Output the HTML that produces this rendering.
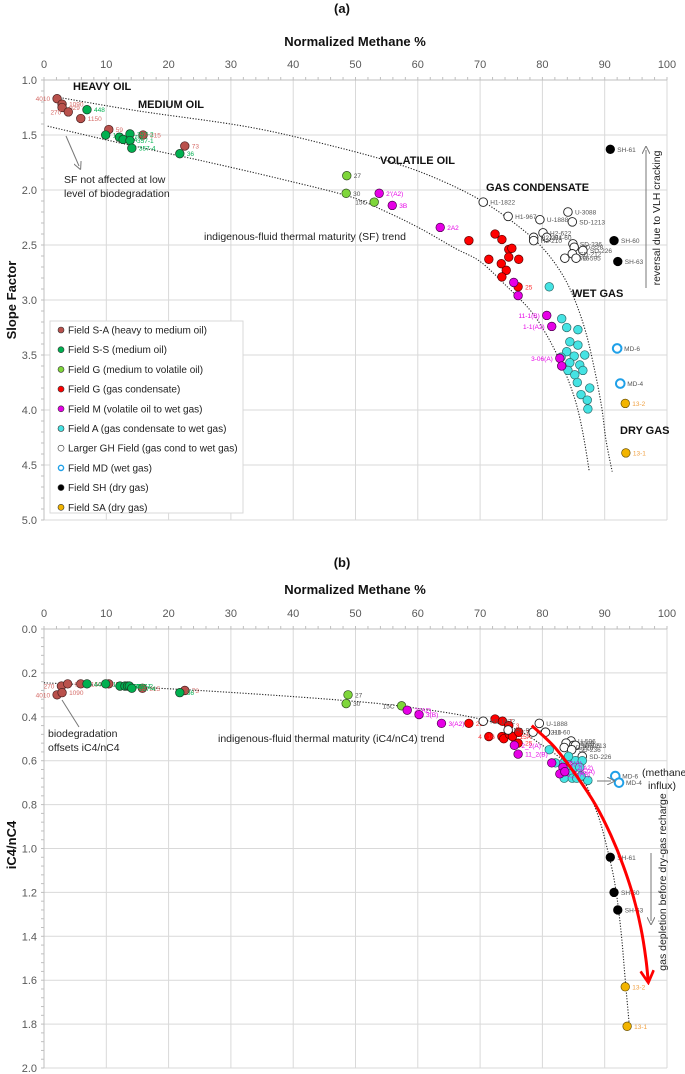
<!DOCTYPE html>
<html><head><meta charset="utf-8">
<style>
html,body{margin:0;padding:0;background:#fff;}
svg{display:block;font-family:"Liberation Sans",Arial,sans-serif;}
.tick{font-size:11px;fill:#595959;}
.ttl{font-size:13px;font-weight:bold;fill:#111;}
.zone{font-size:11px;font-weight:bold;fill:#111;}
.note{font-size:10.5px;fill:#222;}
.lg{font-size:10px;fill:#222;}
.pl{font-size:6.5px;}
</style></head>
<body>
<svg id="chart" width="685" height="1074" viewBox="0 0 685 1074" xmlns="http://www.w3.org/2000/svg">
<defs>
<marker id="ah" markerWidth="8" markerHeight="8" refX="4" refY="4" orient="auto"><path d="M0,0 L8,4 L0,8" fill="none" stroke="#777" stroke-width="1"/></marker>
<marker id="ahr" markerWidth="5" markerHeight="5" refX="4.2" refY="2.5" orient="auto" markerUnits="strokeWidth"><path d="M0.3,0.3 L4.3,2.5 L0.3,4.7" fill="none" stroke="#f00" stroke-width="0.9" stroke-linejoin="miter"/></marker>
</defs>
<text x="342" y="13" text-anchor="middle" class="ttl">(a)</text>
<text x="355" y="46" text-anchor="middle" class="ttl">Normalized Methane %</text>
<text x="342" y="567" text-anchor="middle" class="ttl">(b)</text>
<text x="355" y="594" text-anchor="middle" class="ttl">Normalized Methane %</text>
<text transform="translate(16,300) rotate(-90)" text-anchor="middle" class="ttl">Slope Factor</text>
<text transform="translate(16,845) rotate(-90)" text-anchor="middle" class="ttl">iC4/nC4</text>
<g id="gA"></g>
<g id="gB"></g>

<text x="73" y="90" class="zone">HEAVY OIL</text>
<text x="138" y="108" class="zone">MEDIUM OIL</text>
<text x="380" y="164" class="zone">VOLATILE OIL</text>
<text x="486" y="191" class="zone">GAS CONDENSATE</text>
<text x="572" y="297" class="zone">WET GAS</text>
<text x="620" y="434" class="zone">DRY GAS</text>
<text x="64" y="183" class="note">SF not affected at low</text>
<text x="64" y="197" class="note">level of biodegradation</text>
<line x1="66" y1="136" x2="79" y2="166" stroke="#777" stroke-width="1" marker-end="url(#ah)"/>
<text x="204" y="240" class="note">indigenous-fluid thermal maturity (SF) trend</text>
<line x1="646" y1="288" x2="646" y2="150" stroke="#777" stroke-width="1" marker-end="url(#ah)"/>
<text transform="translate(660,218) rotate(-90)" text-anchor="middle" class="note">reversal due to VLH cracking</text>

<g>
<rect x="50" y="321" width="193" height="192" fill="#fff" stroke="#d9d9d9"/>
<g id="legendItems"></g>
</g>

<text x="48" y="737" class="note">biodegradation</text>
<text x="48" y="751" class="note">offsets iC4/nC4</text>
<line x1="62" y1="700" x2="79" y2="727" stroke="#777" stroke-width="1"/>
<text x="218" y="742" class="note">indigenous-fluid thermal maturity (iC4/nC4) trend</text>
<text x="642" y="776" class="note">(methane</text>
<text x="648" y="789" class="note">influx)</text>
<line x1="597" y1="781" x2="611" y2="781" stroke="#777" stroke-width="1" marker-end="url(#ah)"/>
<line x1="651" y1="853" x2="651" y2="921" stroke="#777" stroke-width="1" marker-end="url(#ah)"/>
<text transform="translate(666,882) rotate(-90)" text-anchor="middle" class="note">gas depletion before dry-gas recharge</text>
</svg>
<script>
// ---------- data: panel (a) Slope Factor ----------
const xTicks = [0,10,20,30,40,50,60,70,80,90,100];
const yTicksA = [1.0,1.5,2.0,2.5,3.0,3.5,4.0,4.5,5.0];
const yTicksB = [0.0,0.2,0.4,0.6,0.8,1.0,1.2,1.4,1.6,1.8,2.0];

const saA_x = [2.1,2.9,2.9,3.9,5.9,10.4,15.9,22.6];
const saA_y = [1.17,1.22,1.25,1.29,1.35,1.45,1.50,1.60];
const saA_l = ['4010','1090','929','270','1150','59','315','73'];
const ssA_x = [6.9,9.9,12.1,12.7,13.8,13.8,14.1,21.8];
const ssA_y = [1.27,1.50,1.52,1.54,1.49,1.55,1.62,1.67];
const ssA_l = ['448','116','357-3','34','357-2','357-1','357-4','36'];
const gA_x = [48.6,48.5,53.0];
const gA_y = [1.87,2.03,2.11];
const gA_l = ['27','30','15C'];
const mA_x = [53.8,55.9,63.6,75.4,76.1,80.7,81.5,82.8,83.1];
const mA_y = [2.03,2.14,2.34,2.84,2.96,3.14,3.24,3.53,3.60];
const mA_l = ["2'(A2)",'3B','2A2','','','11-1(B)','1-1(A2)','3-06(A)',''];
const rA_x = [68.2,72.4,73.5,74.6,75.1,71.4,74.6,76.2,73.4,74.2,73.5,76.1];
const rA_y = [2.46,2.40,2.45,2.54,2.53,2.63,2.61,2.63,2.67,2.73,2.79,2.88];
const rA_l = ['','','','','','','','','','','','25'];
const cA_x = [81.1,83.1,83.9,85.7,84.4,85.7,83.9,85.1,86.8,83.0,84.4,86.0,84.1,85.2,86.5,85.6,87.6,86.2,87.2,87.3];
const cA_y = [2.88,3.17,3.25,3.27,3.38,3.41,3.47,3.51,3.50,3.52,3.57,3.59,3.64,3.68,3.64,3.75,3.80,3.86,3.91,3.99];
const ghA_x = [70.5,74.5,79.6,84.1,84.8,80.1,80.7,78.6,78.6,84.9,85.1,86.5,84.8,83.6,85.4];
const ghA_y = [2.11,2.24,2.27,2.20,2.29,2.39,2.43,2.43,2.46,2.49,2.52,2.55,2.58,2.62,2.62];
const ghA_l = ['H1-1822','H1-967','U-1888','U-3088','SD-1213','H2-622','H1-60','H2-204','H2-210','SD-236','SD-228','SD-226','SD-212','U-596','U-595'];
const mdA_x = [92.0,92.5];
const mdA_y = [3.44,3.76];
const mdA_l = ['MD-6','MD-4'];
const shA_x = [90.9,91.5,92.1];
const shA_y = [1.63,2.46,2.65];
const shA_l = ['SH-61','SH-60','SH-63'];
const sa2A_x = [93.3,93.4];
const sa2A_y = [3.94,4.39];
const sa2A_l = ['13-2','13-1'];
const trendUpA_x = [2.1,15,33.1,47,57.1,64,70.0,75,79.6,83,85.2,87,88.4,89.5,90.2,91.2];
const trendUpA_y = [1.155,1.28,1.43,1.61,1.77,1.92,2.09,2.28,2.5,2.75,3.0,3.3,3.64,3.97,4.27,4.56];
const trendLoA_x = [0.6,12,25,38,49.1,55,60.4,66,70,74,78,80.5,82.8,84.5,85.7,86.7,87.5];
const trendLoA_y = [1.42,1.57,1.73,1.90,2.06,2.20,2.35,2.53,2.65,2.86,3.09,3.30,3.55,3.78,4.0,4.27,4.55];

// ---------- data: panel (b) iC4/nC4 ----------
const saB_x = [2.8,3.8,2.1,2.9,5.9,10.4,15.8,22.6];
const saB_y = [0.26,0.25,0.30,0.29,0.25,0.25,0.27,0.28];
const saB_l = ['270','929','4010','1090','1150','59','315','73'];
const ssB_x = [6.9,9.9,12.2,13.0,13.4,13.7,14.1,21.8];
const ssB_y = [0.25,0.25,0.26,0.26,0.26,0.26,0.27,0.29];
const ssB_l = ['448','116','357-3','34','357-1','357-2','357-4','36'];
const gB_x = [48.8,48.5,57.4];
const gB_y = [0.30,0.34,0.35];
const gB_l = ['27','30','15C'];
const mB_x = [58.3,60.2,63.8,75.5,76.1,81.5,83.3,82.8,83.6];
const mB_y = [0.37,0.39,0.43,0.53,0.57,0.61,0.63,0.66,0.65];
const mB_l = ["2'(A2)",'3(B)','3(A2)','2_2(A)','11_2(B)','3_06(A)','1_2(A2)','1_1(A2)','3_15(A)'];
const rB_x = [68.2,72.4,73.6,74.6,71.4,73.5,73.8,74.7,75.2,76.2,76.1];
const rB_y = [0.43,0.41,0.42,0.44,0.49,0.49,0.50,0.48,0.49,0.47,0.52];
const rB_l = ['2B','8','1','3','4','16','2','11','15A','7','25'];
const cB_x = [81.1,82.1,83.4,84.0,85.3,86.4,85.2,86.0,83.8,84.4,83.5,84.8,85.5,87.3,86.2,84.2];
const cB_y = [0.55,0.61,0.61,0.59,0.60,0.60,0.63,0.63,0.64,0.66,0.68,0.68,0.68,0.69,0.67,0.58];
const ghB_x = [70.5,74.5,79.5,78.5,80.5,84.6,83.8,85.0,85.3,83.5,84.7,86.4];
const ghB_y = [0.42,0.46,0.43,0.47,0.47,0.51,0.52,0.53,0.53,0.54,0.55,0.58];
const ghB_l = ['H1-1822','H1-967','U-1888','H2-210','H1-60','U-596','U-3088','SD-1213','U-595','SD-228','SD-236','SD-226'];
const mdB_x = [91.7,92.3];
const mdB_y = [0.67,0.70];
const mdB_l = ['MD-6','MD-4'];
const shB_x = [90.9,91.5,92.1];
const shB_y = [1.04,1.20,1.28];
const shB_l = ['SH-61','SH-60','SH-63'];
const sa2B_x = [93.3,93.6];
const sa2B_y = [1.63,1.81];
const sa2B_l = ['13-2','13-1'];
const trendB_x = [0,25,50,62,70,76,80,83,85,87,88,89.3,90.4,91.3,92,92.7,93.3,94.0];
const trendB_y = [0.245,0.28,0.33,0.37,0.41,0.46,0.53,0.59,0.64,0.71,0.78,0.88,1.0,1.11,1.23,1.40,1.60,1.82];
const redArrow_x = [78.3,82.0,85.5,88.5,91.0,93.0,94.6,95.8,96.6,97.0];
const redArrow_y = [0.44,0.54,0.67,0.80,0.94,1.08,1.22,1.36,1.50,1.61];

const legendNames = ['Field S-A (heavy to medium oil)','Field S-S (medium oil)','Field G (medium to volatile oil)','Field G (gas condensate)','Field M (volatile oil to wet gas)','Field A (gas condensate to wet gas)','Larger GH Field (gas cond to wet gas)','Field MD (wet gas)','Field SH (dry gas)','Field SA (dry gas)'];
</script>
<script>
const NS='http://www.w3.org/2000/svg';
const X0=44, PXU=6.23;
function xS(v){return X0+v*PXU;}
function yA(v){return 80+(v-1)*110;}
function yB(v){return 629+v*219.5;}
function mk(tag,parent,attrs){const e=document.createElementNS(NS,tag);for(const k in attrs)e.setAttribute(k,attrs[k]);parent.appendChild(e);return e;}

const styles = {
  sa:{fill:'#b9514c',stroke:'#4a2020',sw:0.7,lc:'#d66c68'},
  ss:{fill:'#00b050',stroke:'#1c3a25',sw:0.7,lc:'#00b050'},
  g:{fill:'#7ed63a',stroke:'#2e4a1e',sw:0.7,lc:'#555'},
  r:{fill:'#ff0000',stroke:'#5a0000',sw:0.7,lc:'#ff3030'},
  m:{fill:'#e600e6',stroke:'#4a004a',sw:0.7,lc:'#e600e6'},
  c:{fill:'#45e3e3',stroke:'#2a6a6a',sw:0.7,lc:'#555'},
  gh:{fill:'#fff',stroke:'#222',sw:0.9,lc:'#555'},
  md:{fill:'#fff',stroke:'#1fa0e8',sw:2,lc:'#555'},
  sh:{fill:'#000',stroke:'#000',sw:0.7,lc:'#555'},
  sa2:{fill:'#f2b400',stroke:'#6a5000',sw:0.7,lc:'#f0a040'}
};
const leftLabels={'15C':1,'11-1(B)':1,'1-1(A2)':1,'3-06(A)':1,'4010':1,'270':1,'4':1,'16':1};

function axes(g,yT,ys,top,bottom,prefix){
  xTicks.forEach(t=>{
    const l=mk('line',g,{x1:xS(t),x2:xS(t),y1:top,y2:bottom,stroke:'#d9d9d9','stroke-width':1});
    
    
    const tx=mk('text',g,{x:xS(t),y:top-12,'text-anchor':'middle',class:'tick'});
    tx.textContent=t;
    
    
  });
  for(let v=0;v<=100;v+=2){mk('line',g,{x1:xS(v),x2:xS(v),y1:top-3,y2:top,stroke:'#bfbfbf'});}
  yT.forEach(t=>{
    const y=ys(t);
    const l=mk('line',g,{x1:X0,x2:xS(100),y1:y,y2:y,stroke:'#d9d9d9','stroke-width':1});
    
    
    const tx=mk('text',g,{x:37,y:y+4,'text-anchor':'end',class:'tick'});
    tx.textContent=t.toFixed(1);
    
    
  });
  const step=(yT[1]-yT[0])/5;
  for(let v=yT[0];v<=yT[yT.length-1]+1e-6;v+=step){mk('line',g,{x1:X0-3,x2:X0,y1:ys(v),y2:ys(v),stroke:'#bfbfbf'});}
  mk('line',g,{x1:X0,x2:xS(100),y1:top,y2:top,stroke:'#bfbfbf'});
  mk('line',g,{x1:X0,x2:X0,y1:top,y2:bottom,stroke:'#bfbfbf'});
}

function curve(g,xs,ys,yf,name,attrs){
  const P=xs.map((x,i)=>[xS(x),yf(ys[i])]);
  let d='M'+P[0][0].toFixed(1)+','+P[0][1].toFixed(1);
  for(let i=0;i<P.length-1;i++){
    const p0=P[Math.max(0,i-1)],p1=P[i],p2=P[i+1],p3=P[Math.min(P.length-1,i+2)];
    const c1=[p1[0]+(p2[0]-p0[0])/6,p1[1]+(p2[1]-p0[1])/6];
    const c2=[p2[0]-(p3[0]-p1[0])/6,p2[1]-(p3[1]-p1[1])/6];
    d+='C'+c1[0].toFixed(1)+','+c1[1].toFixed(1)+' '+c2[0].toFixed(1)+','+c2[1].toFixed(1)+' '+p2[0].toFixed(1)+','+p2[1].toFixed(1);
  }
  const p=mk('path',g,Object.assign({d:d,fill:'none'},attrs));
  
  
  return p;
}

function series(g,xs,ys,labels,st,yf,name){
  const s=styles[st];
  xs.forEach((x,i)=>{
    const cx=xS(x), cy=yf(ys[i]);
    const c=mk('circle',g,{cx:cx,cy:cy,r:4.3,fill:s.fill,stroke:s.stroke,'stroke-width':s.sw});
    
    
    const lb=labels?labels[i]:'';
    if(lb){
      const left=leftLabels[lb];
      const t=mk('text',g,{x:left?cx-7:cx+7,y:cy+2.5,'text-anchor':left?'end':'start',class:'pl',fill:s.lc});
      t.textContent=lb;
      
      
    }
  });
}

const gA=document.getElementById('gA'), gB=document.getElementById('gB');
axes(gA,yTicksA,yA,80,520,'a-');
axes(gB,yTicksB,yB,629,1068,'b-');

curve(gA,trendUpA_x,trendUpA_y,yA,'sf-trend-upper',{stroke:'#222','stroke-width':1.1,'stroke-dasharray':'1.2,1.6'});
curve(gA,trendLoA_x,trendLoA_y,yA,'sf-trend-lower',{stroke:'#222','stroke-width':1.1,'stroke-dasharray':'1.2,1.6'});
curve(gB,trendB_x,trendB_y,yB,'ic4-trend',{stroke:'#222','stroke-width':1.1,'stroke-dasharray':'1.2,1.6'});

series(gA,saA_x,saA_y,saA_l,'sa',yA,'field-sa');
series(gA,ssA_x,ssA_y,ssA_l,'ss',yA,'field-ss');
series(gA,gA_x,gA_y,gA_l,'g',yA,'field-g-oil');
series(gA,rA_x,rA_y,rA_l,'r',yA,'field-g-condensate');
series(gA,cA_x,cA_y,null,'c',yA,'field-a');
series(gA,mA_x,mA_y,mA_l,'m',yA,'field-m');
series(gA,ghA_x,ghA_y,ghA_l,'gh',yA,'field-gh');
series(gA,mdA_x,mdA_y,mdA_l,'md',yA,'field-md');
series(gA,shA_x,shA_y,shA_l,'sh',yA,'field-sh');
series(gA,sa2A_x,sa2A_y,sa2A_l,'sa2',yA,'field-sa-gas');

series(gB,saB_x,saB_y,saB_l,'sa',yB,'field-sa');
series(gB,ssB_x,ssB_y,ssB_l,'ss',yB,'field-ss');
series(gB,gB_x,gB_y,gB_l,'g',yB,'field-g-oil');
series(gB,rB_x,rB_y,rB_l,'r',yB,'field-g-condensate');
series(gB,ghB_x,ghB_y,ghB_l,'gh',yB,'field-gh');
series(gB,cB_x,cB_y,null,'c',yB,'field-a');
series(gB,mB_x,mB_y,mB_l,'m',yB,'field-m');
series(gB,mdB_x,mdB_y,mdB_l,'md',yB,'field-md');
series(gB,shB_x,shB_y,shB_l,'sh',yB,'field-sh');
series(gB,sa2B_x,sa2B_y,sa2B_l,'sa2',yB,'field-sa-gas');

curve(gB,redArrow_x,redArrow_y,yB,'gas-depletion-arrow',{stroke:'#ff0000','stroke-width':3,'marker-end':'url(#ahr)'});

const li=document.getElementById('legendItems');
const lkeys=['sa','ss','g','r','m','c','gh','md','sh','sa2'];
lkeys.forEach((k,i)=>{
  const y=330+i*19.7;
  const s=styles[k];
  const c=mk('circle',li,{cx:61,cy:y,r:k==='md'?2.6:3,fill:s.fill,stroke:k==='md'?s.stroke:'#333','stroke-width':k==='md'?1.4:0.6});
  
  
  const t=mk('text',li,{x:68,y:y+3.5,class:'lg'});
  t.textContent=legendNames[i];
  
  
});
</script>
</body></html>
